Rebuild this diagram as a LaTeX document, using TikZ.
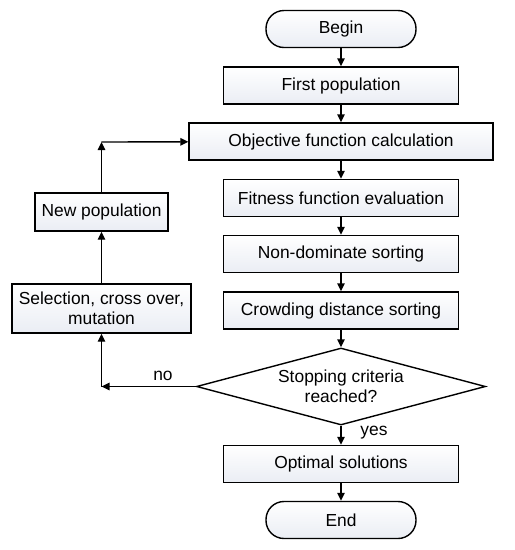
\documentclass[tikz,border=0pt]{standalone}
\usepackage{fontspec}
\setmainfont{Liberation Sans}
\usepackage{tikz}
\usetikzlibrary{arrows.meta,shapes.geometric}
\definecolor{boxshade}{RGB}{234,237,244}
\tikzstyle{block} = [rectangle, draw, line width=1.4pt, top color=white, bottom color=boxshade, text centered, minimum width=235pt, minimum height=37pt, inner sep=0pt]
\tikzstyle{term} = [block, rounded corners=18pt, minimum width=150pt]
\tikzstyle{decision} = [diamond, draw, line width=1.4pt, fill=white, aspect=3.75, minimum width=289pt, minimum height=77pt, inner sep=0pt, align=center]
\tikzstyle{line} = [line width=1.4pt]

\begin{document}
\begin{tikzpicture}[>={Triangle[length=8pt,width=7.5pt]},font=\fontsize{17.4}{20}\selectfont]
  \useasboundingbox (0pt, 0pt) rectangle (515pt, -550pt);
  \draw (341.0pt, -29.0pt)node[term](0){Begin};
  \draw (341.0pt, -85.5pt)node[block](1){First population};
  \draw (341.0pt, -141.5pt)node[block, minimum width=304pt](2){Objective function calculation};
  \draw (341.0pt, -198.0pt)node[block](3){Fitness function evaluation};
  \draw (341.0pt, -254.0pt)node[block](4){Non-dominate sorting};
  \draw (341.0pt, -310.5pt)node[block](5){Crowding distance sorting};
  \draw (341.0pt, -386.5pt)node[decision](6){Stopping criteria\\reached?};
  \draw (341.0pt, -464.0pt)node[block](7){Optimal solutions};
  \draw (341.0pt, -520.0pt)node[term](8){End};
  \draw (101.5pt, -308.5pt)node[block, minimum width=179pt, minimum height=49pt, align=center](9){Selection, cross over,\\mutation};
  \draw (101.5pt, -212.0pt)node[block, minimum width=133pt, minimum height=38pt](10){New population};
  \coordinate (a) at (101.5pt, -386.5pt);
  \coordinate (b) at (101.5pt, -142.0pt);
  \path[->, line] (0) edge (1);
  \path[->, line] (1) edge (2);
  \path[->, line] (2) edge (3);
  \path[->, line] (3) edge (4);
  \path[->, line] (4) edge (5);
  \path[->, line] (5) edge (6);
  \path[->, line] (6) edge (7);
  \path[->, line] (7) edge (8);
  \path[->, line] (6) edge (a);
  \path[->, line] (a) edge (9);
  \path[->, line] (9) edge (10);
  \path[->, line] (10) edge (b);
  \path[->, line] (b) edge (2);
  \draw (163.0pt, -376.0pt)node{no};
  \draw (374.0pt, -433.0pt)node{yes};
\end{tikzpicture}
\end{document}
